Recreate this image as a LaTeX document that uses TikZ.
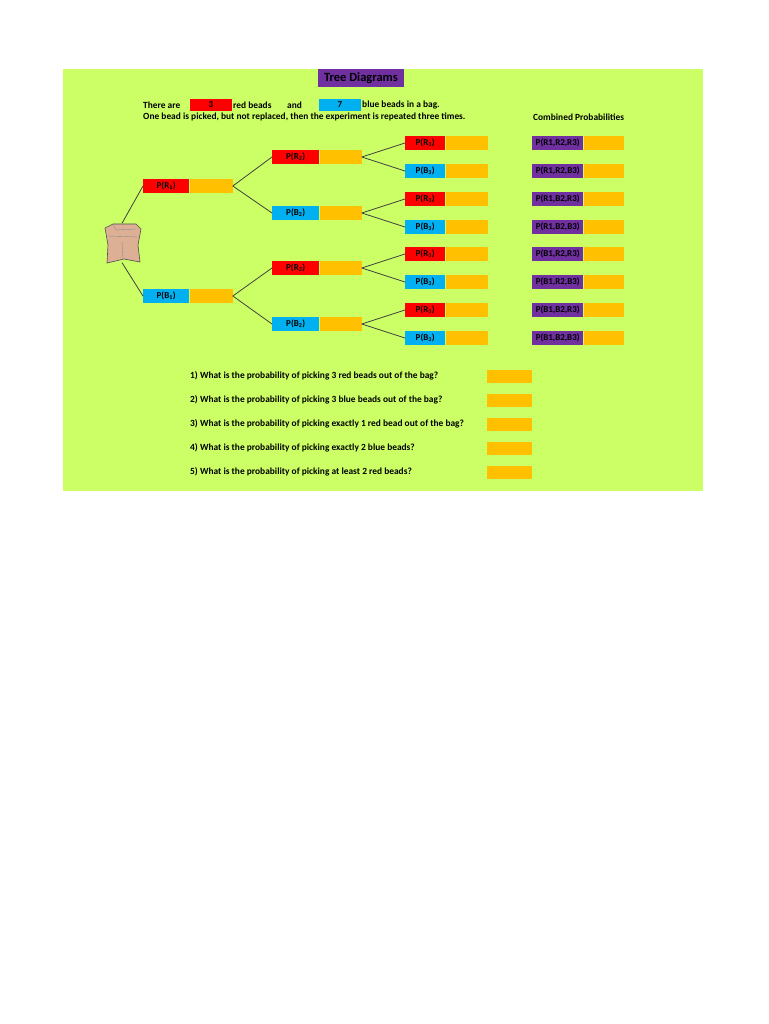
\documentclass[tikz,border=0pt]{standalone}
\usepackage{fontspec}
\setmainfont{Carlito}
\definecolor{bg}{HTML}{CCFF66}
\definecolor{pur}{HTML}{7030A0}
\definecolor{rd}{HTML}{FF0000}
\definecolor{bl}{HTML}{00B0F0}
\definecolor{org}{HTML}{FFC000}
\definecolor{bag}{HTML}{DDB096}
\begin{document}
\begin{tikzpicture}[x=1pt,y=-1pt,
  lab/.style={inner sep=0,font=\fontsize{9}{10}\selectfont\bfseries},
  txt/.style={inner sep=0,anchor=west,font=\fontsize{9.4}{11}\selectfont\bfseries},
  br/.style={line width=0.8pt,draw=black!75}]
\useasboundingbox (0,0) rectangle (768,1024);
\fill[white] (0,0) rectangle (768,1024);
\fill[bg] (63,69) rectangle (703,491);
\node[fill=pur,minimum width=86pt,minimum height=18pt,inner sep=0,font=\fontsize{12.5}{14}\selectfont\bfseries] (title) at (361,78) {Tree Diagrams};
% intro
\node[txt] (t1) at (143,105) {There are};
\node[lab,fill=rd,minimum width=42pt,minimum height=12pt] (n3) at (211,105) {3};
\node[txt] (t2) at (233,105) {red beads};
\node[txt] (t3) at (287,105) {and};
\node[lab,fill=bl,minimum width=42pt,minimum height=12pt] (n7) at (340,105) {7};
\node[txt] (t4) at (362,105) {blue beads in a bag.};
\node[txt] (t5) at (143,117) {One bead is picked, but not replaced, then the experiment is repeated three times.};
\node[txt] (t6) at (533,117) {Combined Probabilities};
\newcommand{\pbox}[8]{%
  \node[lab,fill=#6,minimum width=#4pt,minimum height=14pt,anchor=west] (#1) at (#2,#3) {#7};
  \node[fill=org,minimum width=#5pt,minimum height=14pt,inner sep=0,anchor=west] (#1o) at (#1.east) {};#8}
% bag
\node[inner sep=0,minimum width=37pt,minimum height=39pt] (bagn) at (122,243) {};
\draw[fill=bag,draw=black!70,line width=0.6pt] (105,228) -- (113,224) -- (136,224) -- (141,229) -- (138,245) -- (140,262) -- (124,259) -- (107,263) -- (108,245) -- cycle;
\draw[black!45,line width=0.4pt] (108,236) -- (138,237) (113,224) -- (116,230) -- (136,229) (122,242) -- (123,258);
% stage 1
\pbox{R1}{143}{186}{46}{43}{rd}{P(R\textsubscript{1})}{}
\pbox{B1}{143}{296}{46}{43}{bl}{P(B\textsubscript{1})}{}
% stage 2
\pbox{R2a}{272}{157}{47}{42}{rd}{P(R\textsubscript{2})}{}
\pbox{B2a}{272}{213}{47}{42}{bl}{P(B\textsubscript{2})}{}
\pbox{R2b}{272}{268}{47}{42}{rd}{P(R\textsubscript{2})}{}
\pbox{B2b}{272}{324}{47}{42}{bl}{P(B\textsubscript{2})}{}
% stage 3
\foreach \i/\y/\c/\l in {1/143/rd/R,2/171/bl/B,3/199/rd/R,4/227/bl/B,5/254/rd/R,6/282/bl/B,7/310/rd/R,8/338/bl/B}{
  \node[lab,fill=\c,minimum width=40pt,minimum height=14pt,anchor=west] (s\i) at (405,\y) {P(\l\textsubscript{3})};
  \node[fill=org,minimum width=42pt,minimum height=14pt,inner sep=0,anchor=west] (s\i o) at (s\i.east) {};
}
\foreach \i/\y/\t in {1/143/{P(R1,R2,R3)},2/171/{P(R1,R2,B3)},3/199/{P(R1,B2,R3)},4/227/{P(R1,B2,B3)},5/254/{P(B1,R2,R3)},6/282/{P(B1,R2,B3)},7/310/{P(B1,B2,R3)},8/338/{P(B1,B2,B3)}}{
  \node[lab,fill=pur,minimum width=51pt,minimum height=14pt,anchor=west] (c\i) at (532,\y) {\t};
  \node[fill=org,minimum width=40pt,minimum height=14pt,inner sep=0,anchor=west] (c\i o) at (c\i.east) {};
}
% branches
\draw[br] (bagn.north) -- (R1.west);
\draw[br] (bagn.south) -- (B1.west);
\draw[br] (R1o.east) -- (R2a.west);
\draw[br] (R1o.east) -- (B2a.west);
\draw[br] (B1o.east) -- (R2b.west);
\draw[br] (B1o.east) -- (B2b.west);
\draw[br] (R2ao.east) -- (s1.west);
\draw[br] (R2ao.east) -- (s2.west);
\draw[br] (B2ao.east) -- (s3.west);
\draw[br] (B2ao.east) -- (s4.west);
\draw[br] (R2bo.east) -- (s5.west);
\draw[br] (R2bo.east) -- (s6.west);
\draw[br] (B2bo.east) -- (s7.west);
\draw[br] (B2bo.east) -- (s8.west);
% questions
\foreach \i/\y/\t in {1/376/{1) What is the probability of picking 3 red beads out of the bag?},2/400/{2) What is the probability of picking 3 blue beads out of the bag?},3/424/{3) What is the probability of picking exactly 1 red bead out of the bag?},4/448/{4) What is the probability of picking exactly 2 blue beads?},5/472/{5) What is the probability of picking at least 2 red beads?}}{
  \node[txt] (q\i) at (190,\y) {\t};
  \node[fill=org,minimum width=45pt,minimum height=13pt,inner sep=0] (a\i) at (509.5,\y) {};
}
\end{tikzpicture}
\end{document}
